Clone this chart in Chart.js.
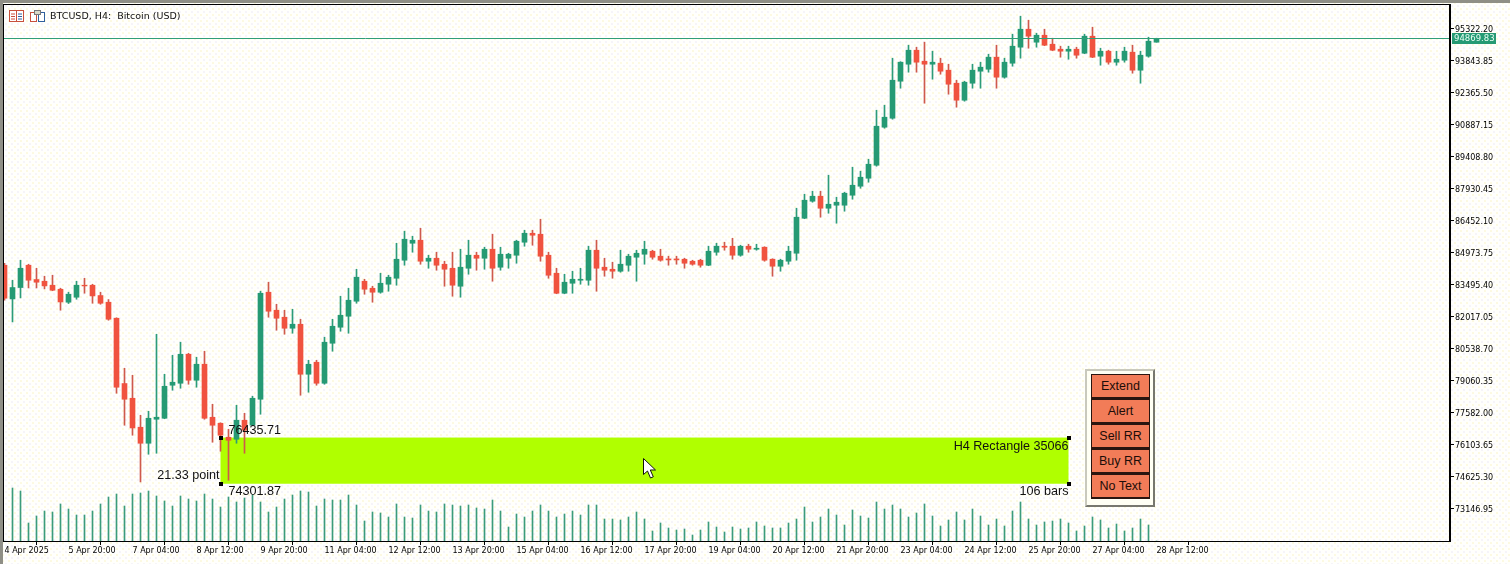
<!DOCTYPE html>
<html>
<head>
<meta charset="utf-8">
<title>BTCUSD, H4</title>
<script src="https://cdn.jsdelivr.net/npm/chart.js@4/dist/chart.umd.min.js"></script>
<style>
  html, body { margin: 0; padding: 0; }
  body {
    width: 1510px; height: 564px; overflow: hidden; position: relative;
    background-color: #fffffc;
    background-image: radial-gradient(#f8f2c4 .6px, transparent .8px), radial-gradient(#ebe7f6 .6px, transparent .8px);
    background-size: 6px 6px;
    background-position: 0 0, 3px 3px;
  }
  canvas { position: absolute; left: 0; top: 0; }
  #frame { position: absolute; left: 0; top: 0; width: 1510px; height: 3px; background: #8f8f86; }
  #frameLeft { position: absolute; left: 0; top: 0; width: 3px; height: 564px; background: #8f8f86; }
  #title { position: absolute; left: 50px; top: 10px; font: 9.5px "DejaVu Sans", sans-serif; color: #111; white-space: pre; }
  #icons { position: absolute; left: 9px; top: 9px; }
  #panel {
    position: absolute; left: 1085px; top: 369px; width: 62px; height: 129px; padding: 3px 0 2px 4px;
    background: #fffff4; border: 2px solid #c9c9bd; border-right-color: #77776f; border-bottom-color: #77776f;
  }
  #panel div {
    box-sizing: border-box; height: 25px; width: 59px; margin: 0;
    background: #f27c58; border: 1px solid #2a1510; border-bottom-width: 2px;
    font: 12.5px/22px "Liberation Sans", sans-serif; color: #1c0d08; text-align: center;
  }
  #cursor { position: absolute; left: 642px; top: 457px; }
</style>
</head>
<body>
<canvas id="chart" width="1510" height="564"></canvas>
<div id="frame"></div>
<div id="frameLeft"></div>
<svg id="icons" width="38" height="14">
  <rect x="0.5" y="1.5" width="14" height="11" fill="#fff" stroke="#c8503c"/>
  <path d="M7.5 2v10M2 5h4M2 7.5h4M2 10h4" stroke="#c8503c"/>
  <path d="M9 5h4M9 7.5h4M9 10h4" stroke="#2f5f9e"/>
  <rect x="21.5" y="3.5" width="6" height="9" fill="#fff" stroke="#c8503c"/>
  <rect x="29.5" y="3.5" width="6" height="9" fill="#fff" stroke="#2f5f9e"/>
  <rect x="25.5" y="1.5" width="6" height="4" fill="#d8d8c8" stroke="#777"/>
</svg>
<div id="title">BTCUSD, H4:  Bitcoin (USD)</div>
<div id="panel">
  <div>Extend</div>
  <div>Alert</div>
  <div>Sell RR</div>
  <div>Buy RR</div>
  <div>No Text</div>
</div>
<svg id="cursor" width="16" height="24">
  <path d="M1.5 1.5v16l4-3.5 3 7 2.8-1.2-3-6.8h5.2z" fill="#fff" stroke="#111"/>
</svg>
<script>
const timeLabels = ['4 Apr 2025', '5 Apr 20:00', '7 Apr 04:00', '8 Apr 12:00', '9 Apr 20:00', '11 Apr 04:00', '12 Apr 12:00', '13 Apr 20:00', '15 Apr 04:00', '16 Apr 12:00', '17 Apr 20:00', '19 Apr 04:00', '20 Apr 12:00', '21 Apr 20:00', '23 Apr 04:00', '24 Apr 12:00', '25 Apr 20:00', '27 Apr 04:00', '28 Apr 12:00'];
const priceTicks = [95322.20, 93843.85, 92365.50, 90887.15, 89408.80, 87930.45, 86452.10, 84973.75, 83495.40, 82017.05, 80538.70, 79060.35, 77582.00, 76103.65, 74625.30, 73146.95];

const opens = [84396, 82839, 83366, 84396, 83735, 83657, 83472, 83287, 82687, 82918, 83472, 83472, 82996, 82687, 81947, 78931, 78251, 76912, 76172, 77281, 77327, 78852, 78944, 80284, 79083, 79822, 77374, 77096, 76450, 76357, 77235, 77004, 78205, 83149, 82317, 81994, 81485, 81670, 79360, 79915, 78944, 80792, 81532, 82040, 82733, 83657, 83333, 83149, 83518, 83795, 84627, 85412, 85551, 84581, 84719, 84442, 84257, 83426, 84257, 84858, 84719, 85135, 84304, 84719, 84858, 85459, 85874, 85828, 84858, 84026, 83102, 83564, 83703, 83703, 85089, 84304, 84211, 84119, 84396, 84766, 84904, 85043, 84812, 84687, 84687, 84673, 84581, 84627, 84396, 84997, 85274, 85274, 84858, 85274, 85135, 85228, 84673, 84350, 84581, 84950, 86567, 87353, 87584, 87029, 87168, 87168, 87630, 88046, 88415, 89016, 90772, 91187, 92897, 93682, 94329, 93821, 93682, 93728, 93405, 92804, 92019, 92804, 93359, 93451, 94006, 93082, 93728, 94468, 95299, 94699, 95022, 94606, 94375, 94283, 94375, 94190, 94976, 94052, 94283, 93775, 93867, 94237, 93405, 94052, 94699];
const closes = [82871, 83366, 84257, 83703, 83611, 83440, 83241, 82700, 83056, 83472, 83440, 82978, 82640, 81901, 78760, 78205, 76879, 76172, 77327, 77374, 78806, 78991, 80284, 79083, 79822, 77327, 77004, 76542, 76311, 77235, 76773, 78251, 83102, 82271, 81947, 81485, 81670, 79360, 79822, 78944, 80839, 81578, 82086, 82779, 83842, 83287, 83149, 83564, 83842, 84673, 85597, 85551, 84581, 84719, 84396, 84211, 83472, 84304, 84858, 84719, 85135, 84257, 84904, 84904, 85505, 85874, 85782, 84812, 83934, 83102, 83611, 83749, 83749, 85089, 84257, 84165, 84119, 84442, 84812, 84950, 85135, 84766, 84627, 84641, 84641, 84488, 84442, 84396, 85043, 85274, 85228, 84858, 85274, 85135, 85181, 84627, 84350, 84627, 85043, 86614, 87399, 87584, 87029, 87214, 87307, 87722, 88092, 88462, 89062, 90818, 91234, 92943, 93775, 94329, 93775, 93682, 93775, 93359, 92758, 92019, 92851, 93405, 93544, 94006, 93082, 93775, 94514, 95299, 94976, 95022, 94560, 94329, 94283, 94375, 94098, 94976, 94006, 94283, 93775, 93913, 94283, 93405, 94098, 94745, 94869.83];
const highs = [84488, 83703, 84627, 84442, 84257, 83888, 83934, 83333, 83149, 83657, 83795, 83518, 83149, 82811, 81970, 79637, 79314, 77466, 77651, 81208, 79360, 80238, 80839, 80330, 80146, 80423, 77974, 77119, 76819, 77928, 77558, 78344, 83195, 83611, 82594, 82317, 82363, 81901, 80007, 80007, 81070, 81901, 82964, 83333, 84211, 83749, 83426, 84026, 83934, 85412, 85967, 85736, 86105, 84858, 84997, 84581, 84997, 85135, 85551, 84997, 85228, 85828, 85228, 84950, 85551, 86013, 86013, 86521, 84997, 84257, 83980, 84119, 84257, 85274, 85551, 84719, 84535, 85089, 84904, 85089, 85505, 85089, 85135, 84812, 84812, 84719, 84627, 84673, 85274, 85412, 85459, 85643, 85320, 85366, 85366, 85251, 84696, 84673, 85274, 87029, 87676, 87815, 87815, 88554, 87538, 87769, 88924, 88739, 89293, 91557, 91788, 93959, 93798, 94560, 94468, 94699, 94283, 93959, 93682, 92943, 92897, 93682, 93775, 94144, 94560, 93959, 95068, 95900, 95715, 95114, 95299, 94883, 94514, 94514, 94468, 95068, 95392, 94421, 94329, 94283, 94468, 94560, 94283, 94930, 94883];
const lows = [82779, 81776, 82885, 83347, 83347, 83301, 83218, 82317, 82627, 82825, 83102, 82640, 82594, 81855, 78482, 77004, 76542, 74384, 75664, 75710, 77304, 78621, 78713, 78898, 78760, 77281, 76219, 75803, 74463, 76172, 75710, 76981, 77512, 81994, 81393, 81208, 81254, 78390, 78529, 78852, 78898, 80423, 81347, 81254, 82640, 83056, 82687, 83102, 83195, 83472, 84396, 84997, 84442, 84257, 84165, 83426, 82964, 82918, 83980, 84165, 84211, 83657, 84165, 84257, 84488, 85274, 85320, 84581, 83795, 83079, 83079, 83102, 83518, 83472, 83195, 83888, 83795, 84073, 84119, 83657, 84442, 84673, 84581, 84396, 84442, 84257, 84396, 84304, 84373, 84858, 85089, 84673, 84812, 84997, 85089, 84581, 83888, 84119, 84442, 84627, 86544, 87307, 86614, 86798, 86336, 86891, 87445, 87953, 88231, 88970, 90725, 91141, 92573, 93313, 93313, 91880, 92989, 93220, 92296, 91696, 91973, 92573, 92573, 93313, 92573, 93035, 93590, 93959, 94421, 94468, 94537, 94306, 94006, 93913, 93959, 94167, 93983, 93636, 93682, 93636, 93775, 93266, 92804, 94006, 94699];
const volumes = [0, 5300, 5000, 1800, 2500, 3000, 2900, 3700, 3200, 2600, 2600, 3000, 3700, 4400, 4700, 3500, 4700, 4800, 5000, 4500, 4000, 3500, 4500, 4200, 4000, 4700, 4200, 3400, 4400, 3900, 4300, 4600, 3900, 2900, 3400, 4200, 4600, 5000, 4900, 3500, 4200, 4100, 4100, 4600, 3600, 2000, 2900, 2800, 2400, 3700, 2400, 2300, 3600, 3000, 2900, 3700, 3600, 3500, 3600, 3300, 3200, 4100, 3000, 1400, 2700, 2400, 3000, 3600, 3000, 2400, 2700, 3000, 2600, 3600, 3600, 2200, 2200, 2100, 2400, 2900, 2200, 1000, 1800, 1300, 1100, 1200, 600, 1100, 1900, 1400, 900, 1400, 1200, 1300, 1900, 1500, 1300, 1300, 1800, 2200, 3400, 1900, 2400, 3200, 2600, 1600, 3100, 2500, 2300, 3900, 3200, 3600, 3200, 2400, 2800, 3700, 2500, 1500, 2100, 2900, 2100, 3200, 2500, 1600, 2200, 1500, 3000, 3900, 2200, 1600, 1900, 2000, 2200, 1800, 1000, 1500, 2400, 2100, 1300, 1700, 1000, 1300, 2200, 1600, 0];

const lastPrice = 94869.83;
const rectPrices = [76435.71, 74301.87];
const rectBars = [27, 133];
const rectName = 'H4 Rectangle 35066';
const rectPoints = '21.33 point';
const rectLength = '106 bars';

const greenColor = '#259a74';
const redColor = '#f0523f';
const barGap = 8; // one time label every 8 bars
const xMin = -0.0625, xMax = 180.6875;

const isUp = opens.map((o, i) => closes[i] >= o);
const barColors = isUp.map(up => up ? greenColor : redColor);
const wickColors = isUp.map(up => up ? '#2c9c7a' : '#cf5a4c');

const overlay = {
  id: 'overlay',
  beforeDatasetsDraw(chart) {
    const { ctx, scales } = chart;
    const left = scales.x.getPixelForValue(rectBars[0]);
    const right = scales.x.getPixelForValue(rectBars[1]);
    const top = scales.y.getPixelForValue(rectPrices[0]);
    const bottom = scales.y.getPixelForValue(rectPrices[1]);
    ctx.save();
    ctx.fillStyle = '#b0ff00';
    ctx.fillRect(left, top, right - left, bottom - top);
    ctx.restore();
  },
  afterDraw(chart) {
    const { ctx, scales, chartArea } = chart;
    const left = scales.x.getPixelForValue(rectBars[0]);
    const right = scales.x.getPixelForValue(rectBars[1]);
    const top = scales.y.getPixelForValue(rectPrices[0]);
    const bottom = scales.y.getPixelForValue(rectPrices[1]);
    ctx.save();

    // plot frame
    ctx.strokeStyle = '#000';
    ctx.lineWidth = 1;
    ctx.strokeRect(chartArea.left - 0.5, chartArea.top + 0.5, chartArea.width, chartArea.height);

    // rectangle handles
    ctx.fillStyle = '#000';
    [[left, top], [left, bottom], [right, top], [right, bottom]].forEach(p => {
      ctx.fillRect(Math.round(p[0]) - 2, Math.round(p[1]) - 2, 4, 4);
    });

    // rectangle texts
    ctx.font = '12.6px "Liberation Sans", sans-serif';
    ctx.fillStyle = '#111';
    ctx.textBaseline = 'middle';
    ctx.textAlign = 'left';
    ctx.fillText(rectPrices[0].toFixed(2), left + 8, top - 7);
    ctx.fillText(rectPrices[1].toFixed(2), left + 8, bottom + 8);
    ctx.textAlign = 'right';
    ctx.fillText(rectPoints, left - 1, bottom - 8);
    ctx.fillText(rectName, right, top + 9);
    ctx.fillText(rectLength, right, bottom + 8);

    // last price tag
    const y = scales.y.getPixelForValue(lastPrice);
    ctx.fillStyle = greenColor;
    ctx.fillRect(chartArea.right + 2, Math.round(y) - 6, 44, 11);
    ctx.fillStyle = '#eafff4';
    ctx.font = '8.5px "DejaVu Sans", sans-serif';
    ctx.textAlign = 'left';
    ctx.fillText(lastPrice.toFixed(2), chartArea.right + 4, Math.round(y));
    ctx.restore();
  }
};

new Chart(document.getElementById('chart'), {
  type: 'bar',
  data: {
    datasets: [
      {
        type: 'line',
        data: [{ x: xMin, y: lastPrice }, { x: xMax, y: lastPrice }],
        borderColor: '#2f9e77',
        borderWidth: 1,
        pointRadius: 0,
        order: 0
      },
      {
        data: opens.map((o, i) => ({ x: i, y: [o, closes[i]] })),
        backgroundColor: barColors,
        barThickness: 5,
        grouped: false,
        order: 1
      },
      {
        data: lows.map((l, i) => ({ x: i, y: [l, highs[i]] })),
        backgroundColor: wickColors,
        barThickness: 1,
        grouped: false,
        order: 2
      },
      {
        data: volumes.map((v, i) => ({ x: i, y: v })),
        yAxisID: 'v',
        backgroundColor: '#3b9c7c',
        barThickness: 1,
        grouped: false,
        order: 3
      }
    ]
  },
  plugins: [overlay],
  options: {
    responsive: false,
    animation: false,
    layout: { padding: { left: 4, top: 4, right: 0, bottom: 0 } },
    plugins: { legend: { display: false }, tooltip: { enabled: false } },
    scales: {
      x: {
        type: 'linear',
        offset: false,
        min: xMin,
        max: xMax,
        afterBuildTicks: axis => { axis.ticks = timeLabels.map((t, i) => ({ value: i * barGap })); },
        afterFit: axis => { axis.height = 23; axis.paddingLeft = 0; axis.paddingRight = 0; },
        grid: { drawOnChartArea: false, tickLength: 4, tickColor: '#000' },
        border: { color: '#000' },
        ticks: {
          autoSkip: false,
          maxRotation: 0,
          align: 'start',
          padding: 1,
          color: '#000',
          font: { family: '"DejaVu Sans"', size: 8 },
          callback: v => timeLabels[v / barGap]
        }
      },
      y: {
        position: 'right',
        min: 71656.8,
        max: 96463.6,
        afterBuildTicks: axis => { axis.ticks = priceTicks.map(v => ({ value: v })); },
        afterFit: axis => { axis.width = 60; axis.paddingTop = 0; axis.paddingBottom = 0; },
        grid: { drawOnChartArea: false, tickLength: 4, tickColor: '#000' },
        border: { color: '#000' },
        ticks: {
          autoSkip: false,
          padding: 1,
          labelOffset: 1,
          color: '#000',
          font: { family: '"DejaVu Sans"', size: 8 },
          callback: v => v.toFixed(2)
        }
      },
      v: { display: false, min: 0, max: 53700 }
    }
  }
});
</script>
</body>
</html>
